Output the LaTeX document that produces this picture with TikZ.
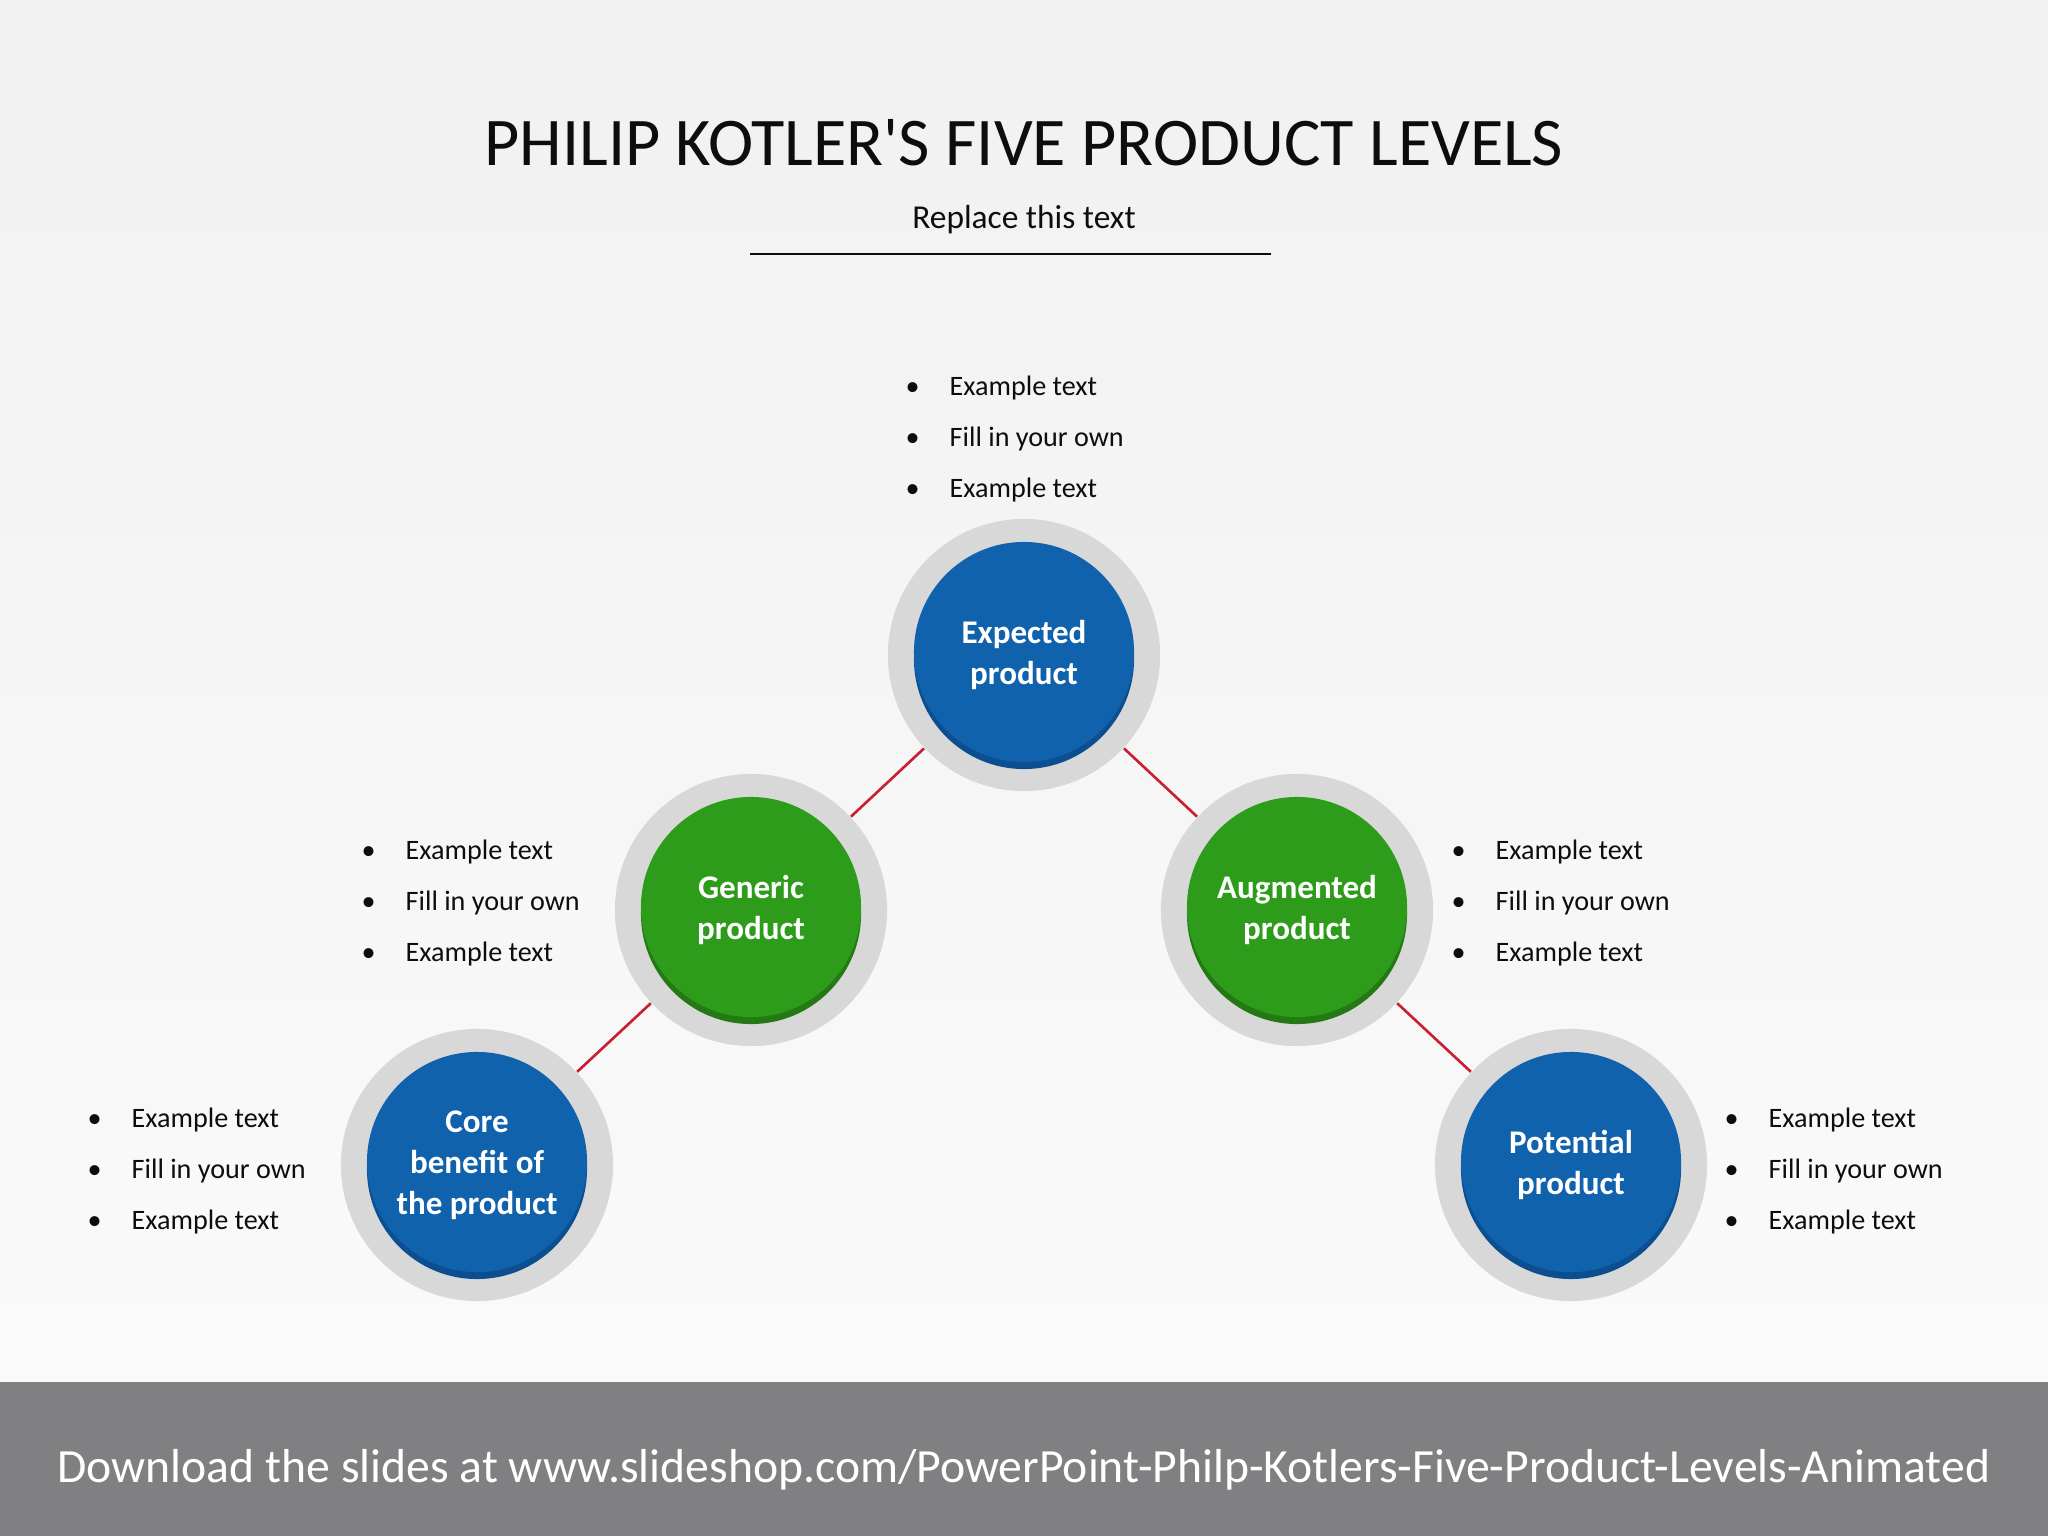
\documentclass[tikz,border=0pt]{standalone}
\usepackage{fontspec}
\setmainfont{Carlito}
\usetikzlibrary{positioning}
\definecolor{paperT}{HTML}{F1F1F1}
\definecolor{paperB}{HTML}{FAFAFA}
\definecolor{ink}{HTML}{0D0D0D}
\definecolor{ringG}{HTML}{D8D8D8}
\definecolor{blueF}{HTML}{1062AD}
\definecolor{blueD}{HTML}{0C4F91}
\definecolor{greenF}{HTML}{2D9C1B}
\definecolor{greenD}{HTML}{237A15}
\definecolor{redL}{HTML}{C8202F}
\definecolor{band}{HTML}{807F81}
\newcommand{\bitem}[1]{\makebox[4.4mm][l]{\textbullet}#1}

\begin{document}
\begin{tikzpicture}[
  x=0.01cm, y=-0.01cm,
  ring/.style={
    circle, fill=ringG, minimum size=27.2mm, inner sep=0pt,
    align=center, text=white, font=\fontsize{9.4}{11.7}\selectfont\bfseries
  },
  bluelevel/.style={ring, path picture={
    \fill[blueD] ([yshift=-0.4mm]path picture bounding box.center) circle (11mm);
    \fill[blueF] ([yshift=0.3mm]path picture bounding box.center) circle (11mm);
  }},
  greenlevel/.style={ring, path picture={
    \fill[greenD] ([yshift=-0.4mm]path picture bounding box.center) circle (11mm);
    \fill[greenF] ([yshift=0.3mm]path picture bounding box.center) circle (11mm);
  }},
  bullets/.style={
    anchor=base west, align=left, inner sep=0pt, text=ink,
    font=\fontsize{8}{14.5}\selectfont
  },
  tie/.style={draw=redL, line width=0.75pt}
]
\useasboundingbox (0,0) rectangle (2048,1536);
\shade[top color=paperT, bottom color=paperB] (0,0) rectangle (2048,1382);
\fill[band] (0,1382) rectangle (2048,1536);

\node[anchor=base, text=ink, font=\fontsize{19.4}{22}\selectfont]
  (title) at (1024,165) {PHILIP KOTLER\textquotesingle S FIVE PRODUCT LEVELS};
\node[anchor=base, text=ink, font=\fontsize{9.5}{11}\selectfont]
  (subtitle) at (1024,228) {Replace this text};
\draw[ink, line width=0.75pt] (750,254) -- (1271,254);

% levels
\node[bluelevel] (expected) at (1024,655) {Expected\\product};
\node[greenlevel] (generic) at (751,910) {Generic\\product};
\node[greenlevel] (augmented) at (1297,910) {Augmented\\product};
\node[bluelevel] (core) at (477,1165) {Core\\benefit of\\the product};
\node[bluelevel] (potential) at (1571,1165) {Potential\\product};

\draw[tie] (expected) -- (generic);
\draw[tie] (generic) -- (core);
\draw[tie] (expected) -- (augmented);
\draw[tie] (augmented) -- (potential);

% bullet lists (base = last line)
\node[bullets] (expectedlist) at (905,497)
  {\bitem{Example text}\\\bitem{Fill in your own}\\\bitem{Example text}};
\node[bullets] (genericlist) at (361,961)
  {\bitem{Example text}\\\bitem{Fill in your own}\\\bitem{Example text}};
\node[bullets] (augmentedlist) at (1451,961)
  {\bitem{Example text}\\\bitem{Fill in your own}\\\bitem{Example text}};
\node[bullets] (corelist) at (87,1229)
  {\bitem{Example text}\\\bitem{Fill in your own}\\\bitem{Example text}};
\node[bullets] (potentiallist) at (1724,1229)
  {\bitem{Example text}\\\bitem{Fill in your own}\\\bitem{Example text}};

\node[anchor=base, text=white, font=\fontsize{13.55}{16}\selectfont]
  (footer) at (1024,1482)
  {Download the slides at www.slideshop.com/PowerPoint-Philp-Kotlers-Five-Product-Levels-Animated};
\end{tikzpicture}
\end{document}
